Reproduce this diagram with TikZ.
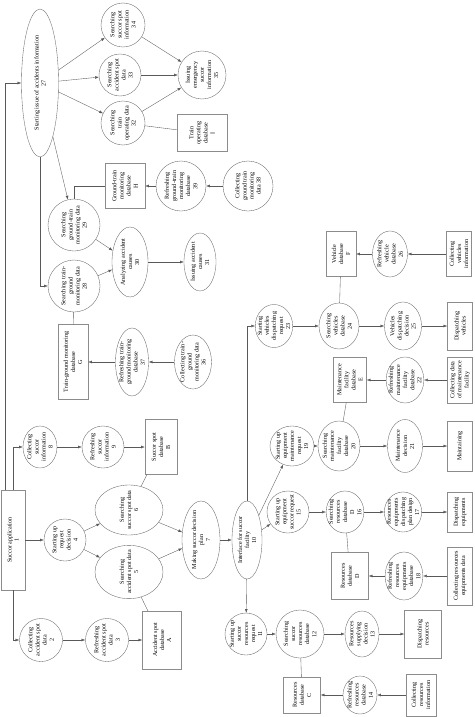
\documentclass[tikz,border=0pt]{standalone}
\usepackage{fontspec}
\setmainfont{Liberation Serif}
\usetikzlibrary{shapes.geometric,arrows.meta}
\tikzset{
    proc/.style={ellipse,draw=black!60,rotate=90,inner sep=-3pt,align=center},
    dbase/.style={rectangle,draw=black!45,line width=0.3pt,rotate=90,inner sep=1pt,align=center},
    sz/.style 2 args={minimum width=#2pt,minimum height=#1pt},
}

\begin{document}
\begin{tikzpicture}[x=1pt,y=-1pt,line width=0.35pt,>={Latex[length=3.8pt,width=2.8pt]},
    every node/.append style={font=\fontsize{6.1}{7.1}\selectfont}]
\useasboundingbox (0,0) rectangle (474,717);

% accident information
\node[proc,sz={37}{148}] (n27) at (40,83) {Starting issue of accidents information\\27};
\node[proc,sz={44}{44}] (n34) at (123,25) {Searching\\succor spot\\information\\34};
\node[proc,sz={42}{42}] (n33) at (120,75) {Searching\\accident spot\\data\\33};
\node[proc,sz={44}{44}] (n32) at (123,123) {Searching\\train\\operating data\\32};
\node[proc,sz={48}{48}] (n35) at (202,75) {Issuing\\emergency\\succor\\information\\35};
\node[dbase,sz={50}{37}] (I) at (202,133) {Train\\operating\\database\\I};
\node[proc,sz={52}{52}] (n29) at (74,225) {Searching\\ground-train\\monitoring data\\29};
\node[dbase,sz={40}{45}] (H) at (125,186) {Ground-train\\monitoring\\database\\H};
\node[proc,sz={50}{50}] (n39) at (181,186) {Refreshing\\ground-train\\monitoring\\database\\39};
\node[proc,sz={50}{50}] (n38) at (248,186) {Collecting\\ground train\\monitoring\\data 38};
\node[proc,sz={52}{52}] (n28) at (74,286) {Searching train-\\ground\\monitoring data\\28};
\node[proc,sz={36}{70}] (n30) at (130,262) {Analyzing accident\\causes\\30};
\node[proc,sz={32}{58}] (n31) at (200,262) {Issuing accident\\causes\\31};
\node[dbase,sz={30}{75}] (G) at (73,362) {Train-ground monitoring\\database\\G};
\node[proc,sz={33}{68}] (n37) at (132,362) {Refreshing train-\\ground monitoring\\database\\37};
\node[proc,sz={37}{54}] (n36) at (193,362) {Collecting train-\\ground\\monitoring data\\36};

% succor decision
\node[dbase,sz={24}{100}] (app) at (13,540) {Succor application\\1};
\node[proc,sz={34}{42}] (n8) at (40,447) {Collecting\\succor\\information\\8};
\node[proc,sz={42}{42}] (n9) at (103,447) {Refreshing\\succor\\information\\9};
\node[dbase,sz={32}{55}] (B) at (161,447) {Succor spot\\database\\B};
\node[proc,sz={42}{42}] (n4) at (65,540) {Starting up\\request\\decision\\4};
\node[proc,sz={68}{50}] (n6) at (129,510) {Searching\\succor spot data\\6};
\node[proc,sz={68}{46}] (n5) at (129,572) {Searching\\accident spot data\\5};
\node[dbase,sz={39}{58}] (A) at (162,640) {Accident spot\\database\\A};
\node[proc,sz={43}{43}] (n2) at (41,640) {Collecting\\accident spot\\data\\2};
\node[proc,sz={43}{43}] (n3) at (107,640) {Refreshing\\accident spot\\data\\3};
\node[proc,sz={38}{78}] (n7) at (201,540) {Making succor decision\\plan\\7};
\node[proc,sz={30}{78}] (n10) at (247,540) {Interface for succor\\facility\\10};

% resources
\node[proc,sz={42}{42}] (n11) at (246,634) {Starting up\\succor\\resources\\request\\11};
\node[proc,sz={48}{48}] (n12) at (300,634) {Searching\\succor\\resources\\database\\12};
\node[dbase,sz={37}{36}] (C) at (302,695) {Resources\\database\\C};
\node[proc,sz={34}{46}] (n13) at (362,634) {Resources\\supplying\\decision\\13};
\node[dbase,sz={37}{48}] (dr) at (423,634) {Dispatching\\resources};
\node[proc,sz={34}{38}] (n14) at (360,695) {Refreshing\\resources\\database\\14};
\node[dbase,sz={30}{42}] (cri) at (421,695) {Collecting\\resources\\information};

% equipments
\node[proc,sz={42}{42}] (n15) at (288,512) {Starting up\\equipment\\succor request\\15};
\node[proc,sz={37}{42}] (n16) at (345,512) {Searching\\resources\\database\\D\\16};
\node[proc,sz={34}{40}] (n17) at (403,512) {Resources\\equipments\\dispatching\\plan design\\17};
\node[dbase,sz={25}{40}] (de) at (460,512) {Dispatching\\equipments};
\node[dbase,sz={37}{47}] (D) at (350,576) {Resources\\database\\D};
\node[proc,sz={35}{48}] (n18) at (404,576) {Refreshing\\resources\\equipments\\database\\18};
\node[dbase,sz={25}{58}] (cre) at (460,576) {Collecting resources\\equipments data};

% maintenance
\node[proc,sz={44}{40}] (n19) at (292,446) {Starting up\\equipment\\maintenance\\request\\19};
\node[proc,sz={42}{50}] (n20) at (339,446) {Searching\\maintenance\\facility\\database\\20};
\node[proc,sz={35}{53}] (n21) at (405,446) {Maintenance\\decision\\21};
\node[dbase,sz={25}{50}] (mt) at (460,446) {Maintaining};
\node[dbase,sz={33}{45}] (E) at (350,380) {Maintenance\\facility\\database\\E};
\node[proc,sz={34}{46}] (n22) at (405,380) {Refreshing\\maintenance\\facility\\database\\22};
\node[dbase,sz={25}{46}] (cdm) at (460,380) {Collecting data\\of maintenance\\facility};

% vehicles
\node[proc,sz={32}{43}] (n23) at (274,326) {Starting\\vehicles\\dispatching\\request\\23};
\node[proc,sz={40}{46}] (n24) at (339,326) {Searching\\vehicles\\database\\24};
\node[proc,sz={37}{48}] (n25) at (403,326) {Vehicles\\dispatching\\decision\\25};
\node[dbase,sz={25}{48}] (dv) at (460,326) {Dispatching\\vehicles};
\node[dbase,sz={30}{45}] (F) at (341,254) {Vehicle\\database\\F};
\node[proc,sz={35}{46}] (n26) at (390,254) {Refreshing\\vehicle\\database\\26};
\node[dbase,sz={25}{45}] (cvi) at (459,254) {Collecting\\vehicles\\information};

\begin{scope}[black!65]
% from the application
\draw[->] ([xshift=-8pt]app.east) |- (n27);
\draw[->] (app.east) |- (n8);
\draw[->] (app) -- (n4);
\draw[->] (app.west) |- (n2);
% accident information
\draw[->] (n27) -- (n34);
\draw[->] (n27) -- (n33);
\draw[->] (n27) -- (n32);
\draw[->] (n27) -- (n29);
\draw[->] (n27) |- (n28);
\draw[->] (n34) -- (n35);
\draw[->] (n33) -- (n35);
\draw[->] (n32) -- (n35);
\draw (n32) -- (I);
\draw (H) -| (n29);
\draw[->] (n39) -- (H);
\draw[->] (n38) -- (n39);
\draw[->] (n28) -- (n30);
\draw[->] (n29) -- (n30);
\draw[->] (n30) -- (n31);
\draw (n28) -- (G);
\draw[->] (n37) -- (G);
\draw[->] (n36) -- (n37);
% succor decision
\draw[->] (n8) -- (n9);
\draw[->] (n9) -- (B);
\draw (B) -- (n6);
\draw[->] (n4) -- (n6);
\draw[->] (n4) -- (n5);
\draw[->] (n6) -- (n7);
\draw[->] (n5) -- (n7);
\draw (n5) -- (A);
\draw[->] (n2) -- (n3);
\draw[->] (n3) -- (A);
\draw[->] (n7) -- (n10);
% facility
\draw[->] (n10) -- (n11);
\draw[->] (n10) -- (n15);
\draw[->] (n10) -- (n19);
\draw[->] (n10) |- (n23);
\draw[->] (n11) -- (n12);
\draw[->] (n12) -- (n13);
\draw[->] (n13) -- (dr);
\draw (n12) -- (C);
\draw[->] (n14) -- (C);
\draw[->] (cri) -- (n14);
\draw[->] (n15) -- (n16);
\draw[->] (n16) -- (n17);
\draw[->] (n17) -- (de);
\draw (n16) -- (D);
\draw[->] (n18) -- (D);
\draw[->] (cre) -- (n18);
\draw[->] (n19) -- (n20);
\draw[->] (n20) -- (n21);
\draw[->] (n21) -- (mt);
\draw (n20) -- (E);
\draw[->] (n22) -- (E);
\draw[->] (cdm) -- (n22);
\draw[->] (n23) -- (n24);
\draw[->] (n24) -- (n25);
\draw[->] (n25) -- (dv);
\draw (n24) -- (F);
\draw[->] (n26) -- (F);
\draw[->] (cvi) -- (n26);
\end{scope}
\end{tikzpicture}
\end{document}
